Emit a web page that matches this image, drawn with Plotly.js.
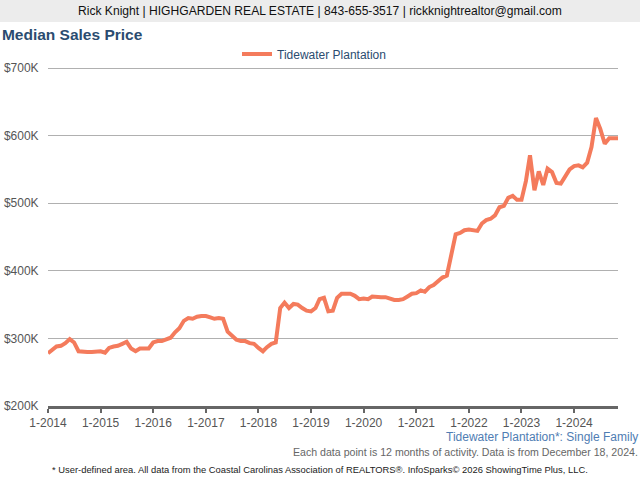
<!DOCTYPE html>
<html>
<head>
<meta charset="utf-8">
<script src="https://cdn.plot.ly/plotly-3.0.1.min.js"></script>
<style>
  body { margin: 0; background: #fff; }
  #chart { width: 640px; height: 480px; }
</style>
</head>
<body>
<div id="chart"></div>
<script>
// median sales price, Tidewater Plantation, one point per month (rolling 12 months)
const startYear = 2014
const seriesName = "Tidewater Plantation"
const prices = [
    // 2014
    278, 283, 288, 289, 293, 299, 294, 281, 280, 280, 280, 280,
    // 2015
    281, 279, 286, 288, 289, 292, 295, 285, 281, 285, 285, 285,
    // 2016
    294, 296, 296, 299, 301, 309, 315, 326, 330, 329, 332, 333,
    // 2017
    333, 331, 329, 330, 329, 310, 304, 298, 296, 296, 293, 292,
    // 2018
    286, 281, 287, 292, 294, 345, 353, 345, 351, 350, 345, 341,
    // 2019
    340, 345, 358, 360, 340, 341, 360, 366, 366, 366, 363, 358,
    // 2020
    359, 358, 362, 361, 361, 361, 359, 357, 357, 358, 362, 366,
    // 2021
    367, 371, 369, 376, 379, 384, 390, 393, 425, 454, 456, 460,
    // 2022
    461, 460, 459, 470, 475, 477, 482, 494, 496, 508, 511, 505,
    // 2023
    505, 533, 571, 519, 547, 527, 551, 546, 530, 529, 540, 550,
    // 2024 (through November)
    555, 556, 553, 560, 583, 626, 610, 588, 596, 596, 596
]

const yTicks = [200000, 300000, 400000, 500000, 600000, 700000]
const yTickText = ["$200K", "$300K", "$400K", "$500K", "$600K", "$700K"]
const xTickYears = [2014, 2015, 2016, 2017, 2018, 2019, 2020, 2021, 2022, 2023, 2024]
const xTickText = xTickYears.map((y) => "1-" + y)

function monthDate(i) {
    let y = startYear + Math.floor(i / 12)
    let m = (i % 12) + 1
    return y + "-" + String(m).padStart(2, "0") + "-01"
}

let dates = prices.map((p, i) => monthDate(i))
let values = prices.map((p) => p * 1000)

let trace = {
    x: dates,
    y: values,
    name: seriesName,
    mode: "lines",
    type: "scatter",
    line: { color: "#f47b5c", width: 4 },
    hoverinfo: "skip"
}

const font = "Liberation Sans, Arial, sans-serif"

// plot area is 570 x 340 px (x 48..618, y 66..406); helpers to place things in page pixels
const px = (x) => (x - 48) / 570
const py = (y) => (406 - y) / 340

let layout = {
    width: 640, height: 480,
    margin: { l: 48, r: 22, t: 66, b: 74 },
    paper_bgcolor: "#fff",
    plot_bgcolor: "#fff",
    font: { family: font, size: 12, color: "#555" },
    title: {
        text: "<b>Median Sales Price</b>",
        font: { family: font, size: 15.5, color: "#2b4c70" },
        xref: "container", x: 0.003, xanchor: "left",
        yref: "container", y: 1 - 35 / 480, yanchor: "middle"
    },
    showlegend: true,
    legend: {
        orientation: "h",
        x: px(314), xanchor: "center",
        y: py(54), yanchor: "middle",
        bgcolor: "rgba(0,0,0,0)",
        font: { family: font, size: 12, color: "#2b4c70" }
    },
    xaxis: {
        type: "date",
        range: [monthDate(0), monthDate(prices.length - 1)],
        tickvals: xTickYears.map((y) => y + "-01-01"),
        ticktext: xTickText,
        showgrid: false,
        zeroline: false,
        showline: true, linecolor: "#666", linewidth: 3,
        ticks: "outside", ticklen: 4, tickwidth: 2, tickcolor: "#666",
        tickfont: { family: font, size: 12, color: "#555" }
    },
    yaxis: {
        // a bit above 700K so the top grid line is not clipped at the edge
        range: [200000, 703000],
        tickvals: yTicks,
        ticktext: yTickText,
        showgrid: true, gridcolor: "#b0b0b0", gridwidth: 1,
        zeroline: false,
        showline: false,
        ticks: "outside", ticklen: 6, tickcolor: "rgba(0,0,0,0)",
        tickfont: { family: font, size: 12, color: "#555" }
    },
    shapes: [
        // contact banner across the top
        {
            type: "rect", xref: "paper", yref: "paper", layer: "below",
            x0: px(0), x1: px(640), y0: py(22), y1: py(0),
            fillcolor: "#ececec", line: { width: 0 }
        }
    ],
    annotations: [
        {
            text: "Rick Knight | HIGHGARDEN REAL ESTATE | 843-655-3517 | rickknightrealtor@gmail.com",
            xref: "paper", yref: "paper", x: px(320), y: py(11),
            xanchor: "center", yanchor: "middle", showarrow: false,
            font: { family: font, size: 12.1, color: "#111" }
        },
        {
            text: "Tidewater Plantation*: Single Family",
            xref: "paper", yref: "paper", x: px(640), y: py(437),
            xanchor: "right", yanchor: "middle", showarrow: false,
            font: { family: font, size: 12, color: "#4f7db3" }
        },
        {
            text: "Each data point is 12 months of activity. Data is from December 18, 2024.",
            xref: "paper", yref: "paper", x: px(640), y: py(452),
            xanchor: "right", yanchor: "middle", showarrow: false,
            font: { family: font, size: 10.6, color: "#666" }
        },
        {
            text: "* User-defined area. All data from the Coastal Carolinas Association of REALTORS®. InfoSparks© 2026 ShowingTime Plus, LLC.",
            xref: "paper", yref: "paper", x: px(320), y: py(469),
            xanchor: "center", yanchor: "middle", showarrow: false,
            font: { family: font, size: 9.4, color: "#222" }
        }
    ]
}

Plotly.newPlot("chart", [trace], layout, { displayModeBar: false, staticPlot: true })
</script>
</body>
</html>
